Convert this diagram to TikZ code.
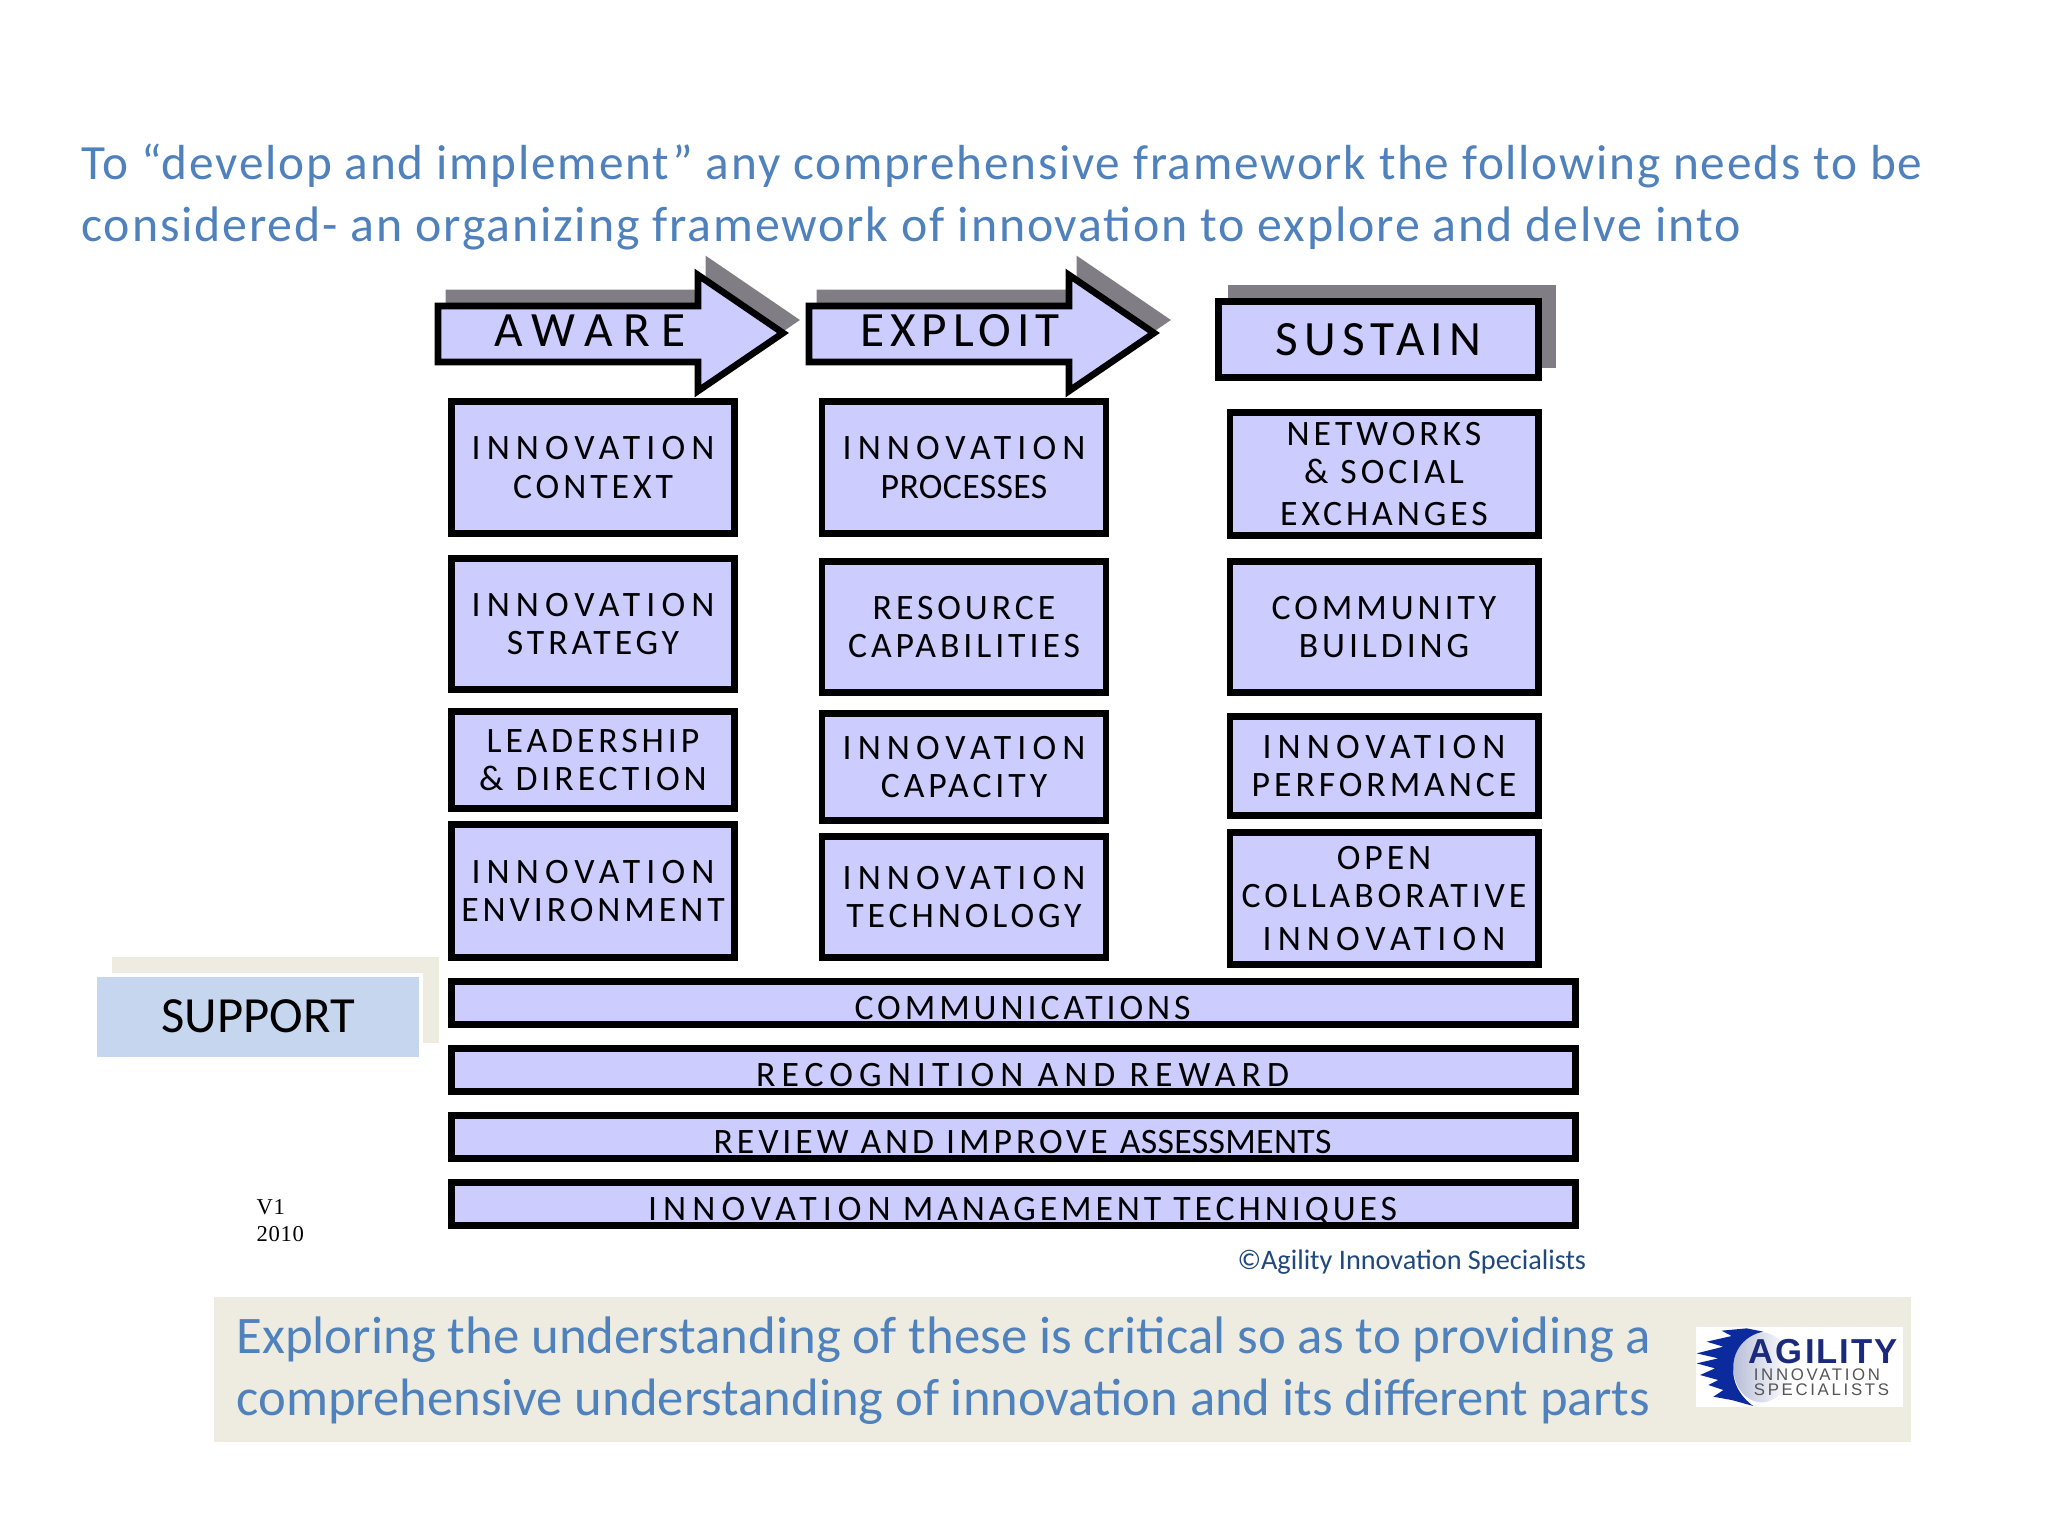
\documentclass[tikz,border=0pt]{standalone}
\usepackage{fontspec}
\setmainfont{Carlito}
\newfontfamily\capsfont[LetterSpace=11]{Carlito}
\newfontfamily\widefont[LetterSpace=17]{Carlito}
\newfontfamily\tightfont[LetterSpace=1]{Carlito}
\newfontfamily\headfont[LetterSpace=12]{Carlito}
\newfontfamily\awarefont[LetterSpace=22]{Carlito}
\newfontfamily\bluefont[LetterSpace=3.6]{Carlito}
\newfontfamily\verfont[LetterSpace=3]{Liberation Serif}
\newfontfamily\logofont[LetterSpace=6]{Liberation Sans}
\newfontfamily\logosmall[LetterSpace=16]{Liberation Sans}
\newcommand{\innov}{{\widefont INNOVATION}}
\definecolor{fillblue}{HTML}{CCCCFF}
\definecolor{shadowgrey}{HTML}{807E84}
\definecolor{textblue}{HTML}{4F81BD}
\definecolor{darkblue}{HTML}{1F497D}
\definecolor{band}{HTML}{EEECE1}
\definecolor{supportblue}{HTML}{C6D6EE}
\definecolor{logoblue}{HTML}{0A2A9E}
\definecolor{logonavy}{HTML}{1B2A7A}
\definecolor{logogrey}{HTML}{555555}
\definecolor{logodisc}{HTML}{B9BED8}
\begin{document}
\begin{tikzpicture}[x=0.375pt,y=-0.375pt,
    box/.style 2 args={rectangle,draw=black,fill=fillblue,line width=2.5pt,inner sep=0pt,minimum width=(#1-6.7)*0.375pt,minimum height=(#2-6.7)*0.375pt,font=\capsfont\fontsize{13.4}{14.4}\selectfont,align=center},
    bar/.style={box={1131}{50},label={[lab,xshift=3.4pt,yshift=-1.9pt]center:#1}},
    lab/.style={font=\capsfont\fontsize{13.4}{14.4}\selectfont,inner sep=0pt,text height=8.6pt,text depth=0pt},
    arrowb/.style={draw=black,fill=fillblue,line width=2.5pt,miter limit=10},
    shadowb/.style={draw=shadowgrey,fill=shadowgrey,line width=2.5pt,miter limit=10},
    headtxt/.style={font=\headfont\fontsize{18.5}{20}\selectfont,inner sep=0pt},
    bluetxt/.style={text=textblue,inner sep=0pt,anchor=base west},
    logotxt/.style={inner sep=0pt,anchor=base west,text=logogrey,font=\logosmall\fontsize{6.3}{7}\selectfont}]
    \useasboundingbox (0,0) rectangle (2048,1536);
    \fill[white] (0,0) rectangle (2048,1536);

    \node[bluetxt,font=\bluefont\fontsize{18.47}{23}\selectfont] (title1) at (81,179) {To “develop and implement” any comprehensive framework the following needs to be};
    \node[bluetxt,font=\bluefont\fontsize{18.7}{23}\selectfont] (title2) at (81,241) {considered- an organizing framework of innovation to explore and delve into};

    \draw[shadowb,shift={(11,-13)}] (438,306) -- ++(260,0) -- ++(0,-31) -- ++(85,58) -- ++(-85,58) -- ++(0,-29) -- ++(-260,0) -- cycle;
    \draw[arrowb] (438,306) -- ++(260,0) -- ++(0,-31) -- ++(85,58) -- ++(-85,58) -- ++(0,-29) -- ++(-260,0) -- cycle;
    \node[headtxt,font=\awarefont\fontsize{18.5}{20}\selectfont] (aware) at (590,331) {AWARE};
    \draw[shadowb,shift={(11,-13)}] (809,306) -- ++(260,0) -- ++(0,-31) -- ++(85,58) -- ++(-85,58) -- ++(0,-29) -- ++(-260,0) -- cycle;
    \draw[arrowb] (809,306) -- ++(260,0) -- ++(0,-31) -- ++(85,58) -- ++(-85,58) -- ++(0,-29) -- ++(-260,0) -- cycle;
    \node[headtxt] (exploit) at (960,331) {EXPLOIT};
    \fill[shadowgrey] (1228,285) rectangle (1556,368);
    \node[box={327}{83},font=\headfont\fontsize{18.5}{20}\selectfont] (sustain) at (1378.5,339.5) {SUSTAIN};

    \node[box={290}{139}] (context) at (593,467.5) {\innov\\CONTEXT};
    \node[box={290}{138}] (strategy) at (593,624) {\innov\\STRATEGY};
    \node[box={290}{104}] (leader) at (593,760) {LEADERSHIP\\\& DIRECTION};
    \node[box={290}{140}] (environ) at (593,891) {\innov\\ENVIRONMENT};

    \node[box={291}{139}] (process) at (964,467.5) {\innov\\{\tightfont PROCESSES}};
    \node[box={291}{138}] (resource) at (964,627) {RESOURCE\\CAPABILITIES};
    \node[box={291}{114}] (capacity) at (964,767) {\innov\\CAPACITY};
    \node[box={291}{128}] (techno) at (964,897) {\innov\\TECHNOLOGY};

    \node[box={315}{130}] (network) at (1384,474) {NETWORKS\\\& SOCIAL\\[1.5pt]EXCHANGES};
    \node[box={315}{138}] (commun) at (1384,627) {COMMUNITY\\BUILDING};
    \node[box={315}{106}] (perform) at (1384,766) {\innov\\PERFORMANCE};
    \node[box={315}{139}] (open) at (1384,898.5) {OPEN\\COLLABORATIVE\\[1.5pt]\innov};

    \node[bar=COMMUNICATIONS] (comm) at (1013.5,1003) {};
    \node[bar={\widefont RECOGNITION AND REWARD}] (recog) at (1013.5,1070) {};
    \node[bar={REVIEW AND IMPROVE {\tightfont ASSESSMENTS}}] (review) at (1013.5,1137) {};
    \node[bar={\innov\ MANAGEMENT TECHNIQUES}] (techn) at (1013.5,1204) {};

    \fill[band] (112,957) rectangle (439,1043);
    \fill[white] (93,973) rectangle (423,1061);
    \fill[supportblue] (97,977) rectangle (419,1057);
    \node[font=\fontsize{19}{20}\selectfont,inner sep=0pt] (support) at (258,1016) {SUPPORT};

    \node[font=\verfont\fontsize{8.5}{10.1}\selectfont,align=left,anchor=base west,inner sep=0pt] (version) at (256,1241) {V1\\2010};
    \node[font=\fontsize{10.6}{12}\selectfont,text=darkblue,anchor=base west,inner sep=0pt] (copy) at (1237,1269) {©Agility Innovation Specialists};

    \fill[band] (214,1297) rectangle (1911,1442);
    \node[bluetxt,font=\fontsize{19.8}{23}\selectfont] (bottom1) at (236,1353) {Exploring the understanding of these is critical so as to providing a};
    \node[bluetxt,font=\fontsize{19.73}{23}\selectfont] (bottom2) at (236,1415) {comprehensive understanding of innovation and its different parts};

    \fill[white] (1696,1327) rectangle (1903,1407);
    \begin{scope}[shift={(1690,1320)},x=0.125pt,y=-0.125pt]
        \shade[left color=logodisc,right color=white] (215,142) ellipse (85 and 105);
        \fill[logoblue] (170,25) -- (95,32) -- (125,48) -- (50,65) -- (100,80) -- (20,100) -- (85,115) -- (20,130) -- (75,145) -- (30,165) -- (85,180) -- (55,195) -- (100,210) -- (70,230) -- (125,240) -- (190,258) .. controls (150,230) and (125,185) .. (130,140) .. controls (130,90) and (165,45) .. (220,35) -- cycle;
        \node[logotxt,text=logonavy,font=\logofont\bfseries\fontsize{13}{14}\selectfont] (agility) at (175,130) {AGILITY};
        \node[logotxt] (logoinno) at (190,180) {INNOVATION};
        \node[logotxt] (logospec) at (190,225) {SPECIALISTS};
    \end{scope}
\end{tikzpicture}
\end{document}
